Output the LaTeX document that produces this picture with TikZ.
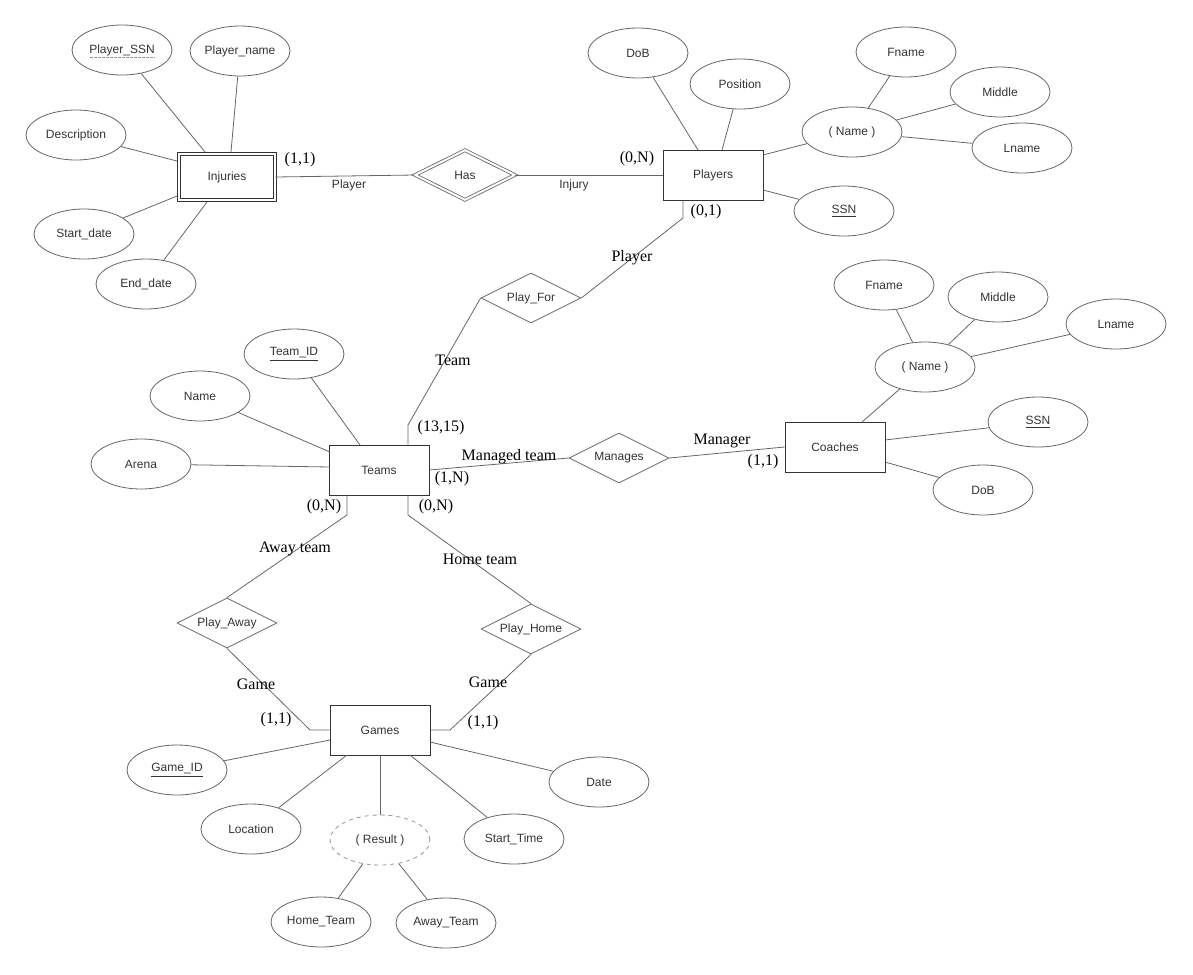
\documentclass[tikz,border=0pt]{standalone}
\usepackage{fontspec}
\setmainfont{Liberation Serif}
\setsansfont{Liberation Sans}
\usetikzlibrary{shapes.geometric}
\definecolor{ln}{HTML}{666666}
\definecolor{tx}{HTML}{333333}
\begin{document}
\begin{tikzpicture}[x=0.75pt,y=-0.75pt,
 attr/.style={ellipse,draw=ln,minimum width=75pt,minimum height=37.5pt,inner sep=0pt,font=\sffamily\fontsize{9}{10}\selectfont,text=tx},
 ent/.style={rectangle,draw=black!80,minimum width=75pt,minimum height=37.5pt,inner sep=0pt,font=\sffamily\fontsize{9}{10}\selectfont,text=tx},
 rel/.style={diamond,draw=ln,aspect=2,minimum width=75pt,minimum height=37.5pt,inner sep=0pt,font=\sffamily\fontsize{9}{10}\selectfont,text=tx},
 role/.style={font=\sffamily\fontsize{9}{10}\selectfont,text=tx},
 card/.style={font=\fontsize{12}{13}\selectfont},
 every path/.style={draw=ln,line width=0.6pt}]
\path[use as bounding box,draw=none] (0,0) rectangle (1193,975);
% entities
\node[ent,double,double distance=1.5pt,minimum width=72pt,minimum height=34.5pt] (inj) at (227,177) {Injuries};
\node[ent] (pl) at (713,175) {Players};
\node[ent] (tm) at (379,470) {Teams};
\node[ent] (co) at (835,447) {Coaches};
\node[ent] (gm) at (380,730) {Games};
% relations
\node[rel,double,double distance=1.5pt] (has) at (465,175) {Has};
\node[rel] (pf) at (531,298) {Play\_For};
\node[rel] (mg) at (619,458) {Manages};
\node[rel] (pa) at (227,623) {Play\_Away};
\node[rel] (ph) at (531,629) {Play\_Home};
% attributes
\node[attr] (pssn) at (122,50) {Player\_SSN};
\node[attr] (pname) at (240,51) {Player\_name};
\node[attr] (desc) at (76,135) {Description};
\node[attr] (sd) at (84,234) {Start\_date};
\node[attr] (ed) at (146,284) {End\_date};
\node[attr] (dob) at (638,53) {DoB};
\node[attr] (pos) at (740,84) {Position};
\node[attr] (fn) at (906,52) {Fname};
\node[attr] (mi) at (1000,92) {Middle};
\node[attr] (nm) at (852,132) {( Name )};
\node[attr] (lnm) at (1022,148) {Lname};
\node[attr] (ssn) at (844,211) {\underline{SSN}};
\node[attr] (fn2) at (884,285) {Fname};
\node[attr] (mi2) at (998,297) {Middle};
\node[attr] (ln2) at (1116,324) {Lname};
\node[attr] (nm2) at (925,367) {( Name )};
\node[attr] (ssn2) at (1038,422) {\underline{SSN}};
\node[attr] (dob2) at (983,490) {DoB};
\node[attr] (tid) at (294,354) {\underline{Team\_ID}};
\node[attr] (tnm) at (200,396) {Name};
\node[attr] (ar) at (141,464) {Arena};
\node[attr] (gid) at (177,770) {\underline{Game\_ID}};
\node[attr] (loc) at (251,829) {Location};
\node[attr,dashed,draw=ln!70] (res) at (380,840) {( Result )};
\node[attr] (dt) at (599,782) {Date};
\node[attr] (st) at (514,839) {Start\_Time};
\node[attr] (ht) at (321,922) {Home\_Team};
\node[attr] (at) at (446,923) {Away\_Team};
\draw[dashed,ln!70,dash pattern=on 2pt off 1pt] (90,57.5) -- (155,57.5);
% attribute lines
\draw (pssn) -- (205,152);
\draw (pname) -- (231,152);
\draw (desc) -- (177,161);
\draw (sd) -- (177,196);
\draw (ed) -- (207,202);
\draw (dob) -- (698,150);
\draw (pos) -- (722,150);
\draw (nm) -- (763,155);
\draw (nm) -- (fn);
\draw (nm) -- (mi);
\draw (nm) -- (lnm);
\draw (ssn) -- (763,190);
\draw (nm2) -- (fn2);
\draw (nm2) -- (mi2);
\draw (nm2) -- (ln2);
\draw (nm2) -- (862,422);
\draw (ssn2) -- (885,440);
\draw (dob2) -- (885,462);
\draw (tid) -- (360,445);
\draw (tnm) -- (330,452);
\draw (ar) -- (330,467);
\draw (gid) -- (330,740);
\draw (loc) -- (347,755);
\draw (res) -- (380,755);
\draw (st) -- (410,755);
\draw (dt) -- (430,742);
\draw (res) -- (ht);
\draw (res) -- (at);
% relationship lines
\draw (inj.east) -- (has.west);
\draw (has.east) -- (pl.west);
\node[role] at (349,185) {Player};
\node[role] at (574,185) {Injury};
\node[card] at (300,160) {(1,1)};
\node[card] at (637,159) {(0,N)};
\coordinate (c1) at (683,218);
\draw (pl.south -| c1) -- (c1) -- (pf.east);
\node[card] at (706,212) {(0,1)};
\node[card] at (632,258) {Player};
\coordinate (c2) at (408,425);
\draw (pf.west) -- (c2) -- (tm.north -| c2);
\node[card] at (453,360) {Team};
\node[card] at (441,428) {(13,15)};
\draw (tm.east) -- (mg.west);
\node[card] at (509,457) {Managed team};
\node[card] at (452,479) {(1,N)};
\draw (mg.east) -- (co.west);
\node[card] at (722,441) {Manager};
\node[card] at (763,462) {(1,1)};
\coordinate (c3) at (347,515);
\draw (tm.south -| c3) -- (c3) -- (pa.north);
\node[card] at (324,507) {(0,N)};
\node[card] at (295,549) {Away team};
\coordinate (c4) at (408,515);
\draw (tm.south -| c4) -- (c4) -- (ph.north);
\node[card] at (436,507) {(0,N)};
\node[card] at (480,559) {Home team};
\coordinate (c5) at (310,730);
\draw (pa.south) -- (c5) -- (gm.west);
\node[card] at (256,684) {Game};
\node[card] at (276,720) {(1,1)};
\coordinate (c6) at (450,730);
\draw (ph.south) -- (c6) -- (gm.east);
\node[card] at (488,682) {Game};
\node[card] at (483,723) {(1,1)};
\end{tikzpicture}
\end{document}
